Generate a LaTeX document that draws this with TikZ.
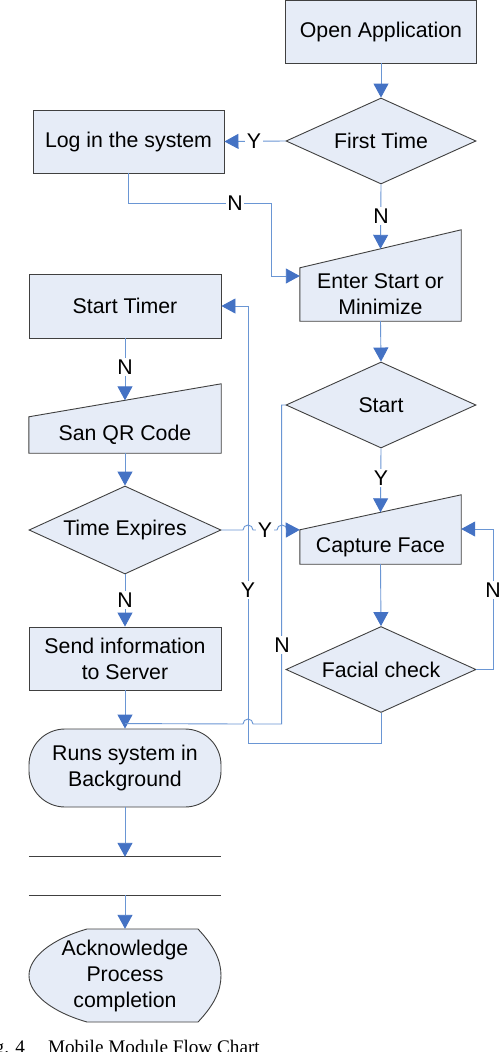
\documentclass[tikz,border=0pt]{standalone}
\usepackage{fontspec}
\setmainfont{Liberation Sans}
\newfontfamily\capfont{Liberation Serif}
\usetikzlibrary{shapes.geometric,arrows.meta}

\definecolor{boxfill}{HTML}{E6ECF7}
\definecolor{boxedge}{HTML}{404040}
\definecolor{flowline}{HTML}{6A96D4}
\definecolor{flowhead}{HTML}{4472C4}

\def \colwidth {192pt}
\def \boxheight {63pt}
\def \diawidth {190pt}
\def \diaheight {86pt}

\tikzset{
  procbox/.style={rectangle, draw=boxedge, fill=boxfill, line width=0.9pt, minimum width=\colwidth, minimum height=\boxheight, align=center, inner sep=0pt},
  decision/.style={diamond, aspect=2.2, draw=boxedge, fill=boxfill, line width=0.9pt, minimum width=\diawidth, minimum height=\diaheight, inner sep=0pt},
  inputbox/.style={rectangle, fill=boxfill, align=center, inner sep=0pt},
  inputedge/.style={draw=boxedge, line width=0.9pt, line join=miter},
  flow/.style={draw=flowline, line width=0.9pt, -{Triangle[length=14pt,width=15pt,color=flowhead]}},
  link/.style={draw=flowline, line width=0.9pt},
  answer/.style={fill=white, inner sep=1.5pt}
}

\begin{document}
\begin{tikzpicture}[x=1pt, y=-1pt, font=\fontsize{21.3}{26}\selectfont]
\useasboundingbox (0,0) rectangle (500,1052);
\clip (0,0) rectangle (500,1052);
\fill[white] (0,0) rectangle (500,1052);

% right column
\node[procbox, minimum width=191pt] (open) at (381,31.5) {Open Application};
\node[decision] (first) at (381,141) {First Time};
\node[inputbox, minimum width=161pt, minimum height=53pt] (enter) at (380.5,294.5) {Enter Start or\\Minimize};
\fill[boxfill] (enter.north west) -- ([yshift=38pt]enter.north east) -- (enter.north east) -- cycle;
\draw[inputedge] (enter.north west) -- (enter.south west) -- (enter.south east) -- ([yshift=38pt]enter.north east) -- cycle;
\node[decision] (start) at (381,405) {Start};
\node[inputbox, minimum width=161pt, minimum height=34pt] (capture) at (380.5,547) {Capture Face};
\fill[boxfill] (capture.north west) -- ([yshift=35pt]capture.north east) -- (capture.north east) -- cycle;
\draw[inputedge] (capture.north west) -- (capture.south west) -- (capture.south east) -- ([yshift=35pt]capture.north east) -- cycle;
\node[decision] (facial) at (381,669.5) {Facial check};

% left column
\node[procbox, minimum width=191pt] (login) at (128.5,141.5) {Log in the system};
\node[procbox, minimum height=64pt] (timer) at (125,306) {Start Timer};
\node[inputbox, minimum width=\colwidth, minimum height=36pt] (scan) at (125,435) {San QR Code};
\fill[boxfill] (scan.north west) -- ([yshift=33pt]scan.north east) -- (scan.north east) -- cycle;
\draw[inputedge] (scan.north west) -- (scan.south west) -- (scan.south east) -- ([yshift=33pt]scan.north east) -- cycle;
\node[decision, minimum width=192pt, minimum height=88pt] (expire) at (125,530) {Time Expires};
\node[procbox] (send) at (125,658.5) {Send information\\to Server};
\node[procbox, rounded corners=36pt, minimum height=78pt] (runs) at (125,768) {Runs system in\\Background};
\node[minimum width=\colwidth, minimum height=38pt] (sync) at (125,876) {};
\draw[boxedge, line width=0.9pt] (sync.north west) -- (sync.north east) (sync.south west) -- (sync.south east);
\filldraw[fill=boxfill, draw=boxedge, line width=0.9pt] (87,929) -- (198,929) .. controls (214,946) and (221,960) .. (221,975.5) .. controls (221,991) and (214,1005) .. (198,1022) -- (87,1022) .. controls (52,1012) and (29,994) .. (29,975.5) .. controls (29,957) and (52,939) .. (87,929) -- cycle;
\node[align=center, inner sep=0pt, minimum width=\colwidth, minimum height=93pt] (ack) at (125,975.5) {Acknowledge\\Process\\completion};

% connectors
\draw[flow] (open.south) -- (first.north);
\draw[flow] (first.west) -- (login.east);
\draw[flow] (first.south) -- ([yshift=19pt]enter.north);
\draw[flow] (login.south) -- ++(0,30) -| ([xshift=-28pt,yshift=18.5pt]enter.west) -- ([yshift=18.5pt]enter.west);
\draw[flow] (enter.south) -- (start.north);
\draw[flow] (start.south) -- ([yshift=17.5pt]capture.north);
\draw[flow] (capture.south) -- (facial.north);
\draw[flow] (facial.east) -- ++(17,0) |- ([yshift=18pt]capture.east);
\draw[flow] (facial.south) -- ++(0,30) -| ([xshift=27pt]timer.east) -- (timer.east);
\draw[flow] (timer.south) -- ([yshift=16.5pt]scan.north);
\draw[flow] (scan.south) -- (expire.north);
\draw[flow] (expire.east) -- (243,530) arc (180:0:5pt) -- (277,530) arc (180:0:5pt) -- (capture.north west);
\draw[flow] (expire.south) -- (send.north);
\draw[flow] (send.south) -- (runs.north);
\draw[link] (start.west) -- ++(-4,0) |- (253,724) arc (0:180:5pt) -- ([yshift=5pt]runs.north);
\draw[flow] (runs.south) -- (sync.north);
\draw[flow] (sync.south) -- (ack.north);

% answers
\node[answer] (y1) at (254,141) {Y};
\node[answer] (n1) at (381,216) {N};
\node[answer] (n2) at (235,203) {N};
\node[answer] (y2) at (381,478) {Y};
\node[answer] (n3) at (493,590) {N};
\node[answer] (y3) at (248,590) {Y};
\node[answer] (n4) at (125,367) {N};
\node[answer] (y4) at (265,530) {Y};
\node[answer] (n5) at (125,600) {N};
\node[answer] (n6) at (282,645) {N};

\node[anchor=base east, font=\capfont\fontsize{19.2}{20}\selectfont, inner sep=0pt] (caption) at (260,1053) {Fig. 4\hspace{23pt}Mobile Module Flow Chart};
\end{tikzpicture}
\end{document}
